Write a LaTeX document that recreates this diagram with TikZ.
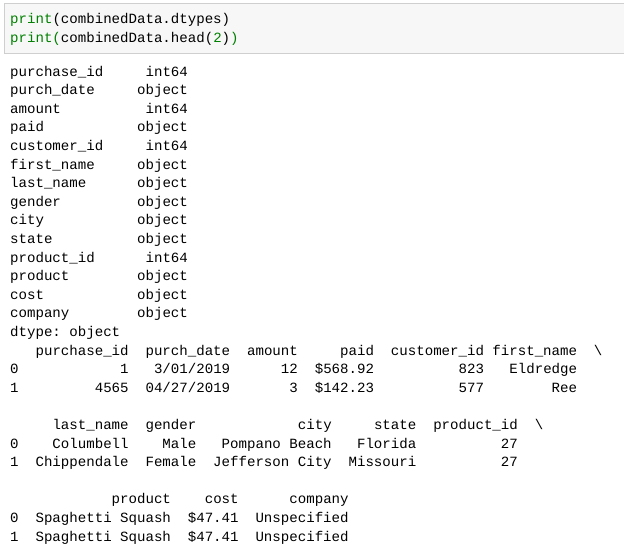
\documentclass[tikz,border=0pt]{standalone}
\usepackage{fontspec}
\setmonofont{Liberation Mono}
\definecolor{kw}{HTML}{008000}
\definecolor{cellbg}{HTML}{F7F7F7}
\definecolor{cellbd}{HTML}{CFCFCF}
\definecolor{txt}{HTML}{000000}
\begin{document}
\begin{tikzpicture}[x=1pt,y=-1pt,
  ln/.style={anchor=base west,inner sep=0pt,font=\ttfamily\fontsize{14.1}{14.1}\selectfont,text=txt}]
\useasboundingbox (0,0) rectangle (624,552);
\fill[white] (0,0) rectangle (624,552);
\draw[cellbd,fill=cellbg] (4.5,3.5) rectangle (624,53) node[coordinate](cellbox){};
\node[ln] (c1) at (10,23) {\textcolor{kw}{print}(combinedData.dtypes)};
\node[ln] (c2) at (10,42) {\textcolor{kw}{print(}combinedData.head(\textcolor{kw}{2})\textcolor{kw}{)}};
\node[ln] (d1) at (10,76.0) {purchase\_id~~~~~int64};
\node[ln] (d2) at (10,94.6) {purch\_date~~~~~object};
\node[ln] (d3) at (10,113.2) {amount~~~~~~~~~~int64};
\node[ln] (d4) at (10,131.8) {paid~~~~~~~~~~~object};
\node[ln] (d5) at (10,150.4) {customer\_id~~~~~int64};
\node[ln] (d6) at (10,169.0) {first\_name~~~~~object};
\node[ln] (d7) at (10,187.6) {last\_name~~~~~~object};
\node[ln] (d8) at (10,206.2) {gender~~~~~~~~~object};
\node[ln] (d9) at (10,224.8) {city~~~~~~~~~~~object};
\node[ln] (d10) at (10,243.4) {state~~~~~~~~~~object};
\node[ln] (d11) at (10,262.0) {product\_id~~~~~~int64};
\node[ln] (d12) at (10,280.6) {product~~~~~~~~object};
\node[ln] (d13) at (10,299.2) {cost~~~~~~~~~~~object};
\node[ln] (d14) at (10,317.8) {company~~~~~~~~object};
\node[ln] (d15) at (10,336.4) {dtype:~object};
\node[ln] (h1) at (10,355.0) {~~~purchase\_id~~purch\_date~~amount~~~~~paid~~customer\_id~first\_name~~\textbackslash};
\node[ln] (r1a) at (10,373.6) {0~~~~~~~~~~~~1~~~3/01/2019~~~~~~12~~\$568.92~~~~~~~~~~823~~~Eldredge};
\node[ln] (r1b) at (10,392.2) {1~~~~~~~~~4565~~04/27/2019~~~~~~~3~~\$142.23~~~~~~~~~~577~~~~~~~~Ree};
\node[ln] (h2) at (10,429.4) {~~~~~last\_name~~gender~~~~~~~~~~~~city~~~~~state~~product\_id~~\textbackslash};
\node[ln] (r2a) at (10,448.0) {0~~~~Columbell~~~~Male~~~Pompano~Beach~~~Florida~~~~~~~~~~27};
\node[ln] (r2b) at (10,466.6) {1~~Chippendale~~Female~~Jefferson~City~~Missouri~~~~~~~~~~27};
\node[ln] (h3) at (10,503.8) {~~~~~~~~~~~~product~~~~cost~~~~~~company};
\node[ln] (r3a) at (10,522.4) {0~~Spaghetti~Squash~~\$47.41~~Unspecified};
\node[ln] (r3b) at (10,541.0) {1~~Spaghetti~Squash~~\$47.41~~Unspecified};
\end{tikzpicture}
\end{document}
